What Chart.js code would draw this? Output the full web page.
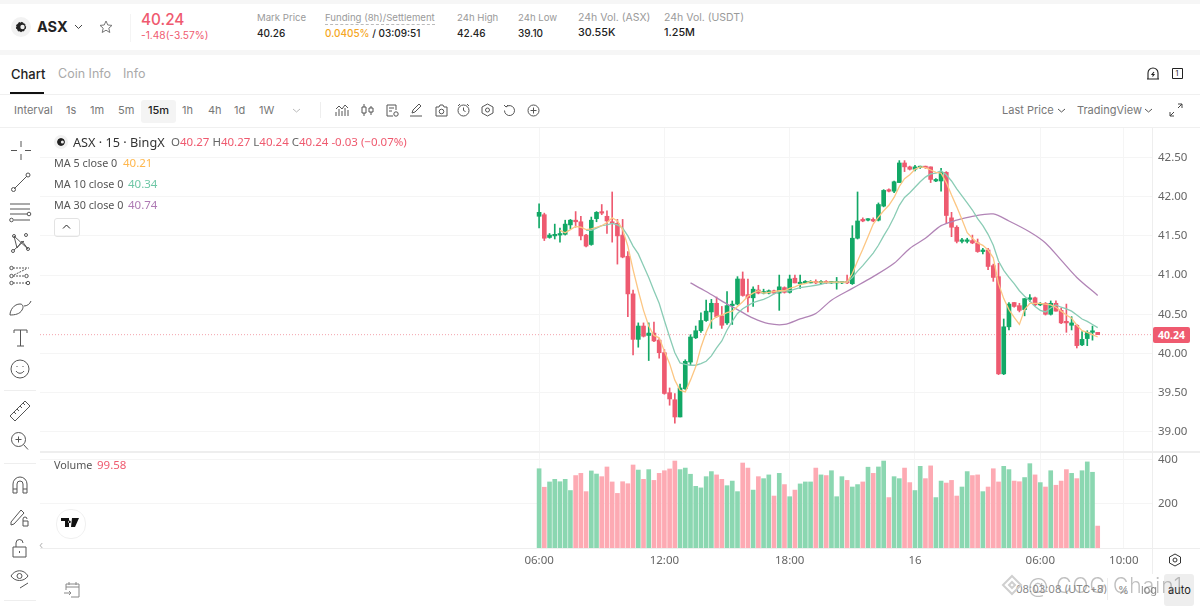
<!DOCTYPE html>
<html>
<head>
<meta charset="utf-8">
<script src="https://cdn.jsdelivr.net/npm/chart.js@4"></script>
<style>
html, body { margin: 0; padding: 0; background: #fff; overflow: hidden; }
#page { position: relative; width: 1200px; height: 610px; font-family: Inter, sans-serif; overflow: hidden; }
.t { position: absolute; white-space: nowrap; line-height: 14px; transform: translateY(-7px); }
.box { position: absolute; }
.g { color: #9a9a9a; font-size: 9.6px; }
.v { color: #222; font-size: 10px; font-weight: 500; }
.tb { color: #777; font-size: 11px; }
.lg { font-family: "Noto Sans", sans-serif; font-size: 10.8px; color: #555; }
.lv { font-family: "Noto Sans", sans-serif; font-size: 11.5px; }
.red { color: #ef5a6f; }
canvas { position: absolute; }
svg.i { position: absolute; fill: none; stroke: #555; stroke-width: 1; overflow: visible; }
</style>
</head>
<body>
<div id="page">
  <div class="box" style="left:0;top:0;width:1200px;height:4px;background:#f6f6f6"></div>
  <div class="box" style="left:0;top:50px;width:1200px;height:5px;background:#f6f6f6"></div>
  <div class="box" style="left:0;top:94px;width:1200px;height:1px;background:#f0f0f0"></div>
  <div class="box" style="left:0;top:127px;width:1200px;height:1px;background:#f0f0f0"></div>
  <div class="box" style="left:130px;top:14px;width:1px;height:28px;background:#f4f4f4"></div>

  <div class="box" style="left:11px;top:17px;width:20px;height:20px;border-radius:10px;background:#f2f2f2"></div>
  <svg class="i" style="left:15px;top:21px" width="12" height="12"><circle cx="6" cy="6" r="4.6" fill="#222" stroke="#222" stroke-dasharray="2 1"/><circle cx="7.5" cy="6" r="2.2" fill="#eee" stroke="none"/></svg>
  <div class="t" style="left:37px;top:27px;font-size:14.5px;font-weight:700;color:#222">ASX</div>
  <svg class="i" style="left:74px;top:24px" width="9" height="6"><path d="M1 1l3.500 3.500L8 1" stroke="#444"/></svg>
  <svg class="i" style="left:99px;top:20px" width="14" height="14"><path d="M7 1l1.800 4 4.200.4-3.200 2.800 1 4.300L7 10.200 3.200 12.500l1-4.300L1 5.400 5.200 5z" stroke="#777"/></svg>
  <div class="t red" style="left:141px;top:20px;font-size:15.300px;font-weight:500">40.24</div>
  <div class="t red" style="left:141px;top:35px;font-size:10.200px">-1.48(-3.57%)</div>

  <div class="t g" style="left:257px;top:18px">Mark Price</div>
  <div class="t v" style="left:257px;top:33px">40.26</div>
  <div class="t g" style="left:325px;top:18px;border-bottom:1px dashed #bbb;line-height:13px">Funding (8h)/Settlement</div>
  <div class="t v" style="left:325px;top:33px"><span style="color:#f5a623">0.0405%</span> / 03:09:51</div>
  <div class="t g" style="left:457px;top:18px">24h High</div>
  <div class="t v" style="left:457px;top:33px">42.46</div>
  <div class="t g" style="left:518px;top:18px">24h Low</div>
  <div class="t v" style="left:518px;top:33px">39.10</div>
  <div class="t g" style="left:578px;top:18px;font-size:10.500px">24h Vol. (ASX)</div>
  <div class="t v" style="left:578px;top:33px;font-size:10.800px">30.55K</div>
  <div class="t g" style="left:664px;top:18px;font-size:10.500px">24h Vol. (USDT)</div>
  <div class="t v" style="left:664px;top:33px;font-size:10.800px">1.25M</div>

  <div class="t" style="left:11px;top:74px;font-size:13px;font-weight:500;color:#222">Chart</div>
  <div class="box" style="left:10px;top:92px;width:34px;height:2px;background:#111"></div>
  <div class="t" style="left:58px;top:74px;font-size:12.500px;color:#aaa">Coin Info</div>
  <div class="t" style="left:123px;top:74px;font-size:12.500px;color:#aaa">Info</div>
  <svg class="i" style="left:1147px;top:68px" width="12" height="12"><path d="M1 11V5a5 5 0 0 1 10 0v6zM0 11h12M7 4L5 6.500h2L5.500 8.500" stroke="#222" stroke-width="1.100"/></svg>
  <svg class="i" style="left:1172px;top:68px" width="11" height="11"><path d="M.5.500h10v10H.5z" stroke="#222"/></svg>
  <div class="t" style="left:1175.500px;top:74px;font-size:7px;color:#222">1</div>

  <div class="t tb" style="left:14px;top:110px">Interval</div>
  <div class="t tb" style="left:66px;top:110px">1s</div>
  <div class="t tb" style="left:90px;top:110px">1m</div>
  <div class="t tb" style="left:118px;top:110px">5m</div>
  <div class="box" style="left:141px;top:100px;width:35px;height:23px;background:#f4f4f4;border-radius:3px"></div>
  <div class="t" style="left:148px;top:110px;font-size:11px;font-weight:500;color:#222">15m</div>
  <div class="t tb" style="left:182px;top:110px">1h</div>
  <div class="t tb" style="left:208px;top:110px">4h</div>
  <div class="t tb" style="left:234px;top:110px">1d</div>
  <div class="t tb" style="left:259px;top:110px">1W</div>
  <svg class="i" style="left:292px;top:108px" width="9" height="6"><path d="M1 1l3.500 3L8 1" stroke="#bbb"/></svg>
  <div class="box" style="left:320px;top:102px;width:1px;height:16px;background:#eee"></div>
  <svg class="i" style="left:335px;top:104px" width="14" height="13"><path d="M1 12V8M4 12V5M7 12V7M10 12V4M13 12V6M1 5l3-3 3 3 3-4 3 3"/></svg>
  <svg class="i" style="left:361px;top:103px" width="13" height="14"><path d="M3 1v12M10 3v9"/><path d="M1 4h4v6H1zM8 5h4v4H8z" fill="#fff"/></svg>
  <svg class="i" style="left:386px;top:104px" width="13" height="13"><path d="M10 6V1H1v11h6M3 4h5M3 7h3"/><circle cx="10" cy="10" r="2.200"/></svg>
  <svg class="i" style="left:409px;top:103px" width="14" height="14"><path d="M1 13h12M3 10l1-3 6-6 2 2-6 6z"/></svg>
  <svg class="i" style="left:435px;top:104px" width="13" height="13"><path d="M1 3h3l1-2h3l1 2h3v9H1z"/><circle cx="6.500" cy="7.500" r="2.300"/></svg>
  <svg class="i" style="left:457px;top:103px" width="13" height="14"><circle cx="6.500" cy="7.500" r="5.500"/><path d="M6.500 4.500v3l2 1M1 3l2-2M12 3l-2-2"/></svg>
  <svg class="i" style="left:481px;top:103px" width="13" height="14"><path d="M6.500 1l5.500 3v6l-5.500 3L1 10V4z"/><circle cx="6.500" cy="7" r="2"/></svg>
  <svg class="i" style="left:503px;top:104px" width="13" height="13"><path d="M3 3a5 5 0 1 1-1.500 3.500M1 1l2 2 2-2"/></svg>
  <svg class="i" style="left:527px;top:104px" width="13" height="13"><circle cx="6.500" cy="6.500" r="5.500"/><path d="M3.500 6.500h6M6.500 3.500v6"/></svg>
  <div class="t tb" style="left:1002px;top:110px">Last Price</div>
  <svg class="i" style="left:1057px;top:108px" width="9" height="6"><path d="M1 1l3.500 3L8 1"/></svg>
  <div class="t tb" style="left:1077px;top:110px">TradingView</div>
  <svg class="i" style="left:1144px;top:108px" width="9" height="6"><path d="M1 1l3.500 3L8 1"/></svg>
  <svg class="i" style="left:1169px;top:103px" width="13" height="13"><path d="M1 13l4-4M1 9v4h4M13 1L9 5M9 1h4v4" stroke="#444"/></svg>

  <canvas id="priceChart" width="1160" height="323" style="left:40px;top:128px"></canvas>
  <canvas id="volumeChart" width="1160" height="122" style="left:40px;top:452px"></canvas>
  <div class="box" style="left:40px;top:451px;width:1160px;height:2px;background:#eeeeee"></div>
  <div class="box" style="left:1152px;top:128px;width:1px;height:446px;background:#eeeeee"></div>
  <div class="box" style="left:40px;top:548px;width:1160px;height:1px;background:#eeeeee"></div>
  <div id="priceTag" class="box" style="left:1153px;width:37px;height:16px;background:#ef5a6f;color:#fff;font:bold 10.500px 'Noto Sans',sans-serif;line-height:16px;text-align:center;border-radius:2px">40.24</div>

  <svg class="i" style="left:10px;top:140px" width="22" height="22"><path d="M11 1v6M11 14v6M1 10.500h6M15 10.500h6"/></svg>
  <svg class="i" style="left:11px;top:172px" width="20" height="20"><path d="M3 17L16 4"/><circle cx="2.500" cy="17.500" r="2"/><circle cx="17" cy="3" r="2"/></svg>
  <svg class="i" style="left:9px;top:203px" width="22" height="20"><path d="M1 1h20M1 6h20M1 11h17M5 17h16"/><circle cx="20" cy="11" r="1.800"/><circle cx="2.500" cy="17" r="1.800"/></svg>
  <svg class="i" style="left:10px;top:233px" width="20" height="20"><path d="M4 3l3 12 5-7 6 8M4 3l14 13M4 17l10-9"/><circle cx="4" cy="3" r="1.500"/><circle cx="16" cy="2" r="1.500"/><circle cx="3" cy="18" r="1.500"/><circle cx="18" cy="16" r="1.500"/></svg>
  <svg class="i" style="left:9px;top:266px" width="21" height="20"><path d="M4 2h16M4 10h12M4 17h15M5 9l12-6" stroke-dasharray="2 1"/><circle cx="2.500" cy="2" r="1.700"/><circle cx="2.500" cy="10" r="1.700"/><circle cx="2.500" cy="17" r="1.700"/><circle cx="17.500" cy="10" r="1.700"/><circle cx="19" cy="17" r="1.700"/></svg>
  <svg class="i" style="left:9px;top:297px" width="24" height="20"><path d="M1 18c0-5 4-11 10-11 3 0 4 3 2 6-2 4-7 5-12 5zM15 9c3 0 6-2 7-5"/></svg>
  <svg class="i" style="left:13px;top:329px" width="15" height="18"><path d="M1 4V1h13v3M7.500 1v16M4 17h7"/></svg>
  <svg class="i" style="left:10px;top:359px" width="20" height="20"><circle cx="10" cy="10" r="9"/><path d="M6 12c2 3 6 3 8 0M7 7v1M13 7v1"/></svg>
  <div class="box" style="left:4px;top:390px;width:32px;height:1px;background:#eee"></div>
  <svg class="i" style="left:9px;top:400px" width="22" height="22"><path d="M1 16L16 1l5 5L6 21zM5 12l2 2M8 9l2 2M11 6l2 2M14 3l2 2"/></svg>
  <svg class="i" style="left:11px;top:432px" width="18" height="19"><circle cx="7.500" cy="7.500" r="7"/><path d="M7.500 4.500v6M4.500 7.500h6M12.500 12.500l4.500 5"/></svg>
  <div class="box" style="left:4px;top:463px;width:32px;height:1px;background:#eee"></div>
  <svg class="i" style="left:12px;top:476px" width="16" height="18"><path d="M1 17V8a7 7 0 0 1 14 0v9h-4V8a3 3 0 0 0-6 0v9zM1 13h4M11 13h4"/></svg>
  <svg class="i" style="left:10px;top:508px" width="20" height="19"><path d="M1 14L11 2l3 3L4 16l-3 1zM17 11a2 2 0 0 0-4 0v2M13 13h5v5h-5z"/></svg>
  <svg class="i" style="left:12px;top:539px" width="15" height="19"><path d="M1 8h13v10H1zM4 8V4a3.500 3.500 0 0 1 7 0M7.500 12v2"/></svg>
  <svg class="i" style="left:10px;top:569px" width="20" height="20"><path d="M1 7c4-7 13-7 17 0-4 6-13 6-17 0z"/><circle cx="9.500" cy="7" r="2.500"/><path d="M10 19l8-5"/></svg>
  <div class="box" style="left:4px;top:600px;width:32px;height:1px;background:#eee"></div>

  <div class="box" style="left:54px;top:135px;width:14px;height:14px;border-radius:7px;background:#f1f1f1"></div>
  <svg class="i" style="left:57px;top:138px" width="8" height="8"><circle cx="4" cy="4" r="3.400" fill="#222" stroke="#222"/><circle cx="5.400" cy="4" r="1.500" fill="#eee" stroke="none"/></svg>
  <div class="t lg" style="left:73px;top:142px;font-size:12.700px;color:#333">ASX · 15 · BingX</div>
  <div class="t lv red" style="left:171px;top:142px"><span style="color:#666">O</span>40.27 <span style="color:#666">H</span>40.27 <span style="color:#666">L</span>40.24 <span style="color:#666">C</span>40.24 -0.03 (−0.07%)</div>
  <div class="t lg" style="left:54px;top:163px">MA 5 close 0</div>
  <div class="t lv" style="left:123px;top:163px;color:#ffb74d">40.21</div>
  <div class="t lg" style="left:54px;top:184px">MA 10 close 0</div>
  <div class="t lv" style="left:128px;top:184px;color:#6fc7a6">40.34</div>
  <div class="t lg" style="left:54px;top:205px">MA 30 close 0</div>
  <div class="t lv" style="left:128px;top:205px;color:#ae7ab3">40.74</div>
  <div class="box" style="left:54px;top:218px;width:24px;height:17px;border:1px solid #e3e3e3;border-radius:3px"></div>
  <svg class="i" style="left:62px;top:224px" width="9" height="6"><path d="M1 4.500L4.500 1 8 4.500" stroke="#222"/></svg>
  <div class="t lg" style="left:54px;top:465px">Volume</div>
  <div class="t lv red" style="left:97px;top:465px">99.58</div>

  <div class="box" style="left:56px;top:509px;width:28px;height:28px;border-radius:14px;background:#fff;border:1px solid #f0f0f0"></div>
  <svg class="i" style="left:61px;top:518px" width="19" height="10"><path d="M0 0h8v9H4V3H0zM11 0h7l-4 9h-4zM8.500 2.500a1.300 1.300 0 1 0 .01 0" fill="#111" stroke="none"/></svg>
  <div class="t" style="left:39px;top:545px;font-size:11px;color:#bbb">‹</div>
  <svg class="i" style="left:63px;top:581px" width="17" height="17"><path d="M3 9V3h13v13H8M3 6h13M6 1v3M13 1v3M1 12h7M6 10l2 2-2 2" stroke="#888"/></svg>
  <div class="t" style="left:1016px;top:590px;font-size:10.500px;color:#888">08:03:08 (UTC+8)</div>
  <div class="box" style="left:1107px;top:578px;width:1px;height:22px;background:#eee"></div>
  <div class="t" style="left:1118px;top:590px;font-size:11px;color:#888">%</div>
  <div class="t" style="left:1141px;top:590px;font-size:11px;color:#888">log</div>
  <div class="box" style="left:1164px;top:574px;width:30px;height:32px;background:#eeeeee;border-radius:3px"></div>
  <div class="t" style="left:1168px;top:590px;font-size:11px;color:#222">auto</div>
  <svg class="i" style="left:1168px;top:553px" width="14" height="14"><path d="M7 1l5.500 3v6L7 13l-5.500-3V4z" stroke="#333"/><circle cx="7" cy="7" r="2" stroke="#333"/></svg>
  <svg class="i" style="left:1001px;top:574px" width="22" height="30"><path d="M11 2l9 9-9 9-9-9zM11 8l3 3-3 3-3-3z" stroke="#cfcfcf" stroke-width="2"/></svg>
  <div class="t" style="left:1028px;top:586px;font-size:21px;font-weight:300;color:rgba(130,130,130,.5);letter-spacing:1px">@ COG Chain1</div>
</div>

<script>
const opens = [41.75,41.77,41.48,41.50,41.51,41.52,41.64,41.70,41.68,41.51,41.39,41.72,41.80,41.75,41.68,41.66,41.51,41.24,40.76,40.18,40.35,40.23,40.26,40.17,40.01,39.50,39.41,39.19,39.55,39.89,40.20,40.29,40.42,40.53,40.64,40.48,40.39,40.61,40.63,40.95,40.75,40.71,40.81,40.77,40.77,40.80,40.77,40.84,40.78,40.96,40.89,40.90,40.90,40.92,40.90,40.92,40.90,40.90,40.90,40.92,40.89,41.47,41.71,41.70,41.71,41.70,41.88,42.08,42.07,42.18,42.43,42.38,42.35,42.37,42.38,42.38,42.20,42.20,42.31,41.73,41.61,41.43,41.43,41.44,41.41,41.30,41.32,41.12,40.98,39.74,40.34,40.65,40.61,40.56,40.69,40.71,40.62,40.64,40.50,40.64,40.55,40.41,40.36,40.36,40.11,40.19,40.27,40.27];
const highs = [41.91,41.79,41.53,41.65,41.60,41.70,41.71,41.81,41.75,41.52,41.74,41.81,41.90,41.82,42.06,41.71,41.71,41.30,40.81,40.39,40.39,40.39,40.40,40.19,40.05,39.56,39.49,39.61,39.92,40.24,40.35,40.52,40.68,40.69,40.72,40.60,40.79,40.67,40.98,41.04,40.95,40.85,40.87,40.82,40.81,40.81,41.00,40.85,41.00,41.00,41.00,40.93,40.93,40.94,40.93,40.93,40.92,40.97,40.92,41.00,41.63,42.06,41.73,41.72,41.73,41.92,42.09,42.10,42.20,42.46,42.46,42.39,42.40,42.39,42.39,42.38,42.23,42.36,42.32,41.80,41.63,41.47,41.47,41.51,41.46,41.34,41.34,41.14,41.15,40.44,40.65,40.65,40.64,40.70,40.75,40.72,40.65,40.65,40.67,40.67,40.58,40.63,40.47,40.37,40.28,40.29,40.35,40.27];
const lows = [41.60,41.44,41.47,41.46,41.42,41.51,41.59,41.61,41.45,41.36,41.38,41.68,41.77,41.53,41.42,41.14,41.22,40.47,39.98,40.08,40.21,39.91,40.15,39.94,39.48,39.34,39.11,39.19,39.54,39.85,40.19,40.27,40.41,40.32,40.46,40.32,40.37,40.37,40.62,40.73,40.53,40.60,40.76,40.76,40.76,40.76,40.55,40.77,40.77,40.90,40.83,40.89,40.90,40.89,40.89,40.89,40.89,40.82,40.89,40.89,40.88,41.46,41.68,41.69,41.68,41.69,41.87,42.06,42.05,42.18,42.32,42.34,42.33,42.36,42.36,42.18,42.19,42.07,41.66,41.49,41.41,41.41,41.41,41.40,41.29,41.27,41.07,40.92,39.73,39.73,40.30,40.59,40.53,40.48,40.66,40.61,40.61,40.49,40.49,40.54,40.38,40.27,40.30,40.07,40.10,40.10,40.17,40.24];
const closes = [41.80,41.47,41.51,41.52,41.53,41.65,41.70,41.68,41.50,41.37,41.70,41.80,41.79,41.69,41.66,41.50,41.23,40.76,40.18,40.35,40.22,40.26,40.16,40.01,39.49,39.42,39.19,39.56,39.90,40.21,40.29,40.42,40.54,40.64,40.47,40.36,40.61,40.62,40.95,40.74,40.71,40.82,40.77,40.79,40.80,40.77,40.85,40.78,40.95,40.90,40.90,40.91,40.92,40.90,40.92,40.90,40.91,40.91,40.91,40.90,41.47,41.69,41.69,41.71,41.69,41.90,42.08,42.07,42.19,42.43,42.38,42.35,42.38,42.38,42.37,42.22,42.22,42.31,41.76,41.61,41.43,41.44,41.44,41.41,41.30,41.32,41.11,40.97,39.74,40.34,40.63,40.60,40.55,40.70,40.71,40.62,40.64,40.50,40.64,40.54,40.39,40.39,40.39,40.10,40.18,40.27,40.28,40.24];
const volumes = [360,276,300,312,301,312,261,329,339,256,350,336,324,368,300,248,301,292,377,354,312,356,307,339,351,359,395,356,363,335,280,273,324,347,332,312,283,304,256,386,363,263,324,315,332,236,339,288,233,263,291,300,300,363,332,329,351,233,324,307,277,288,300,367,339,368,395,229,324,315,363,297,261,371,315,373,229,304,295,307,236,277,347,329,332,256,277,360,300,371,356,304,301,320,383,332,297,277,351,285,304,356,339,315,351,391,344,99.58];

// first candle of each moving average is where the line starts in the picture
const ma5Start = 4;
const ma5 = [41.57,41.54,41.58,41.62,41.61,41.58,41.59,41.61,41.63,41.67,41.73,41.69,41.58,41.37,41.07,40.80,40.55,40.35,40.23,40.20,40.03,39.87,39.66,39.53,39.51,39.66,39.83,40.08,40.27,40.42,40.47,40.49,40.52,40.54,40.60,40.66,40.73,40.77,40.80,40.77,40.78,40.79,40.80,40.80,40.83,40.85,40.88,40.89,40.92,40.91,40.91,40.91,40.91,40.91,40.91,40.91,41.02,41.18,41.33,41.49,41.65,41.74,41.82,41.89,41.99,42.13,42.23,42.28,42.35,42.38,42.37,42.34,42.31,42.30,42.18,42.02,41.87,41.71,41.54,41.47,41.41,41.38,41.32,41.22,40.89,40.70,40.56,40.46,40.37,40.56,40.64,40.64,40.64,40.63,40.62,40.59,40.54,40.49,40.45,40.36,40.29,40.27,40.24,40.21];
const ma10Start = 9;
const ma10 = [41.57,41.57,41.60,41.63,41.64,41.66,41.64,41.60,41.50,41.37,41.27,41.12,40.97,40.80,40.64,40.42,40.21,40.01,39.88,39.86,39.85,39.85,39.87,39.90,39.97,40.07,40.16,40.30,40.41,40.51,40.57,40.61,40.65,40.67,40.69,40.72,40.76,40.79,40.80,40.80,40.82,40.84,40.85,40.86,40.87,40.88,40.90,40.90,40.91,40.91,40.91,40.97,41.05,41.12,41.20,41.28,41.38,41.50,41.61,41.74,41.89,41.99,42.05,42.12,42.19,42.25,42.29,42.30,42.33,42.28,42.20,42.10,42.01,41.92,41.83,41.72,41.63,41.52,41.38,41.18,41.06,40.97,40.89,40.80,40.73,40.67,40.60,40.55,40.53,40.58,40.62,40.59,40.57,40.54,40.49,40.44,40.41,40.37,40.33];
// ma30 read at the candles where its bends are visible
const ma30Candles = [29,32,36,38,41,44,47,50,53,56,60,64,68,71,74,77,80,83,87,90,94,97,100,103,107];
const ma30 = [40.90,40.79,40.63,40.56,40.45,40.38,40.37,40.44,40.51,40.68,40.83,40.98,41.15,41.34,41.47,41.63,41.70,41.75,41.78,41.69,41.55,41.41,41.19,40.97,40.74];

const lastPrice = 40.24;
const priceTicks = [39, 39.5, 40, 40.5, 41, 41.5, 42, 42.5];
const volumeTicks = [200, 400];
const timeTickCandles = [0, 24, 48, 72, 96, 112];
const timeTickLabels = ['06:00', '12:00', '18:00', '16', '06:00', '10:00'];

const upColor = '#12a866';
const downColor = '#ee5a70';
const upVolColor = '#8bd7b1';
const downVolColor = '#fdaab3';
const gridColor = '#f5f5f5';

const xMin = -95.6;
const xMax = 117.4;

function candleColors(up, down) {
    return closes.map((c, i) => (c >= opens[i] ? up : down));
}

function pointsFrom(values, start) {
    return values.map((v, i) => ({ x: start + i, y: v }));
}

// tick labels must not push the plot area in from the canvas edge
function noPadding(axis) {
    axis.paddingTop = 0;
    axis.paddingBottom = 0;
    axis.paddingLeft = 0;
    axis.paddingRight = 0;
}

function xAxis(showLabels) {
    return {
        type: 'linear',
        offset: false,
        min: xMin,
        max: xMax,
        afterBuildTicks: (axis) => { axis.ticks = timeTickCandles.map((v) => ({ value: v })); },
        afterFit: (axis) => { axis.height = showLabels ? 26 : 0; noPadding(axis); },
        grid: { color: gridColor, drawTicks: false, offset: false },
        border: { display: false },
        ticks: {
            display: showLabels,
            autoSkip: false,
            maxRotation: 0,
            padding: 6,
            color: '#666',
            font: { family: 'Noto Sans', size: 11.5 },
            callback: (value) => timeTickLabels[timeTickCandles.indexOf(value)]
        }
    };
}

function yAxis(min, max, tickValues, format) {
    return {
        position: 'right',
        min,
        max,
        afterBuildTicks: (axis) => { axis.ticks = tickValues.map((v) => ({ value: v })); },
        afterFit: (axis) => { axis.width = 48; noPadding(axis); },
        grid: { color: gridColor, drawTicks: false },
        border: { display: false },
        ticks: {
            crossAlign: 'near',
            padding: 6,
            color: '#666',
            font: { family: 'Noto Sans', size: 11.5 },
            callback: format
        }
    };
}

function lineSet(data, color, width, tension) {
    return {
        type: 'line',
        data,
        borderColor: color,
        borderWidth: width,
        pointRadius: 0,
        tension,
        order: 2
    };
}

const sharedOptions = {
    responsive: false,
    animation: false,
    devicePixelRatio: 1,
    layout: { padding: 0 },
    plugins: { legend: { display: false }, tooltip: { enabled: false } }
};

const priceChart = new Chart(document.getElementById('priceChart'), {
    type: 'bar',
    data: {
        datasets: [
            {
                data: closes.map((c, i) => ({ x: i, y: [lows[i], highs[i]] })),
                backgroundColor: candleColors(upColor, downColor),
                barThickness: 1,
                grouped: false,
                order: 4
            },
            {
                data: closes.map((c, i) => ({ x: i, y: [opens[i], c] })),
                backgroundColor: candleColors(upColor, downColor),
                barThickness: 4,
                minBarLength: 1.5,
                grouped: false,
                order: 3
            },
            lineSet(pointsFrom(ma5, ma5Start), '#fcc683', 1.3, 0),
            lineSet(pointsFrom(ma10, ma10Start), '#8accb5', 1.3, 0),
            lineSet(ma30Candles.map((c, i) => ({ x: c, y: ma30[i] })), '#b184b6', 1.3, 0.3),
            {
                type: 'line',
                data: [{ x: xMin, y: lastPrice }, { x: xMax, y: lastPrice }],
                borderColor: '#f4a3ad',
                borderWidth: 1,
                borderDash: [1, 2],
                pointRadius: 0,
                order: 5
            }
        ]
    },
    options: {
        ...sharedOptions,
        scales: {
            x: xAxis(false),
            y: yAxis(38.756, 42.876, priceTicks, (v) => v.toFixed(2))
        }
    }
});

new Chart(document.getElementById('volumeChart'), {
    type: 'bar',
    data: {
        datasets: [{
            data: volumes.map((v, i) => ({ x: i, y: v })),
            backgroundColor: candleColors(upVolColor, downVolColor),
            barThickness: 4
        }]
    },
    options: {
        ...sharedOptions,
        scales: {
            x: xAxis(true),
            y: yAxis(0, 436, volumeTicks, (v) => String(v))
        }
    }
});

document.getElementById('priceTag').style.top = (128 + priceChart.scales.y.getPixelForValue(lastPrice) - 8) + 'px';
</script>
</body>
</html>
